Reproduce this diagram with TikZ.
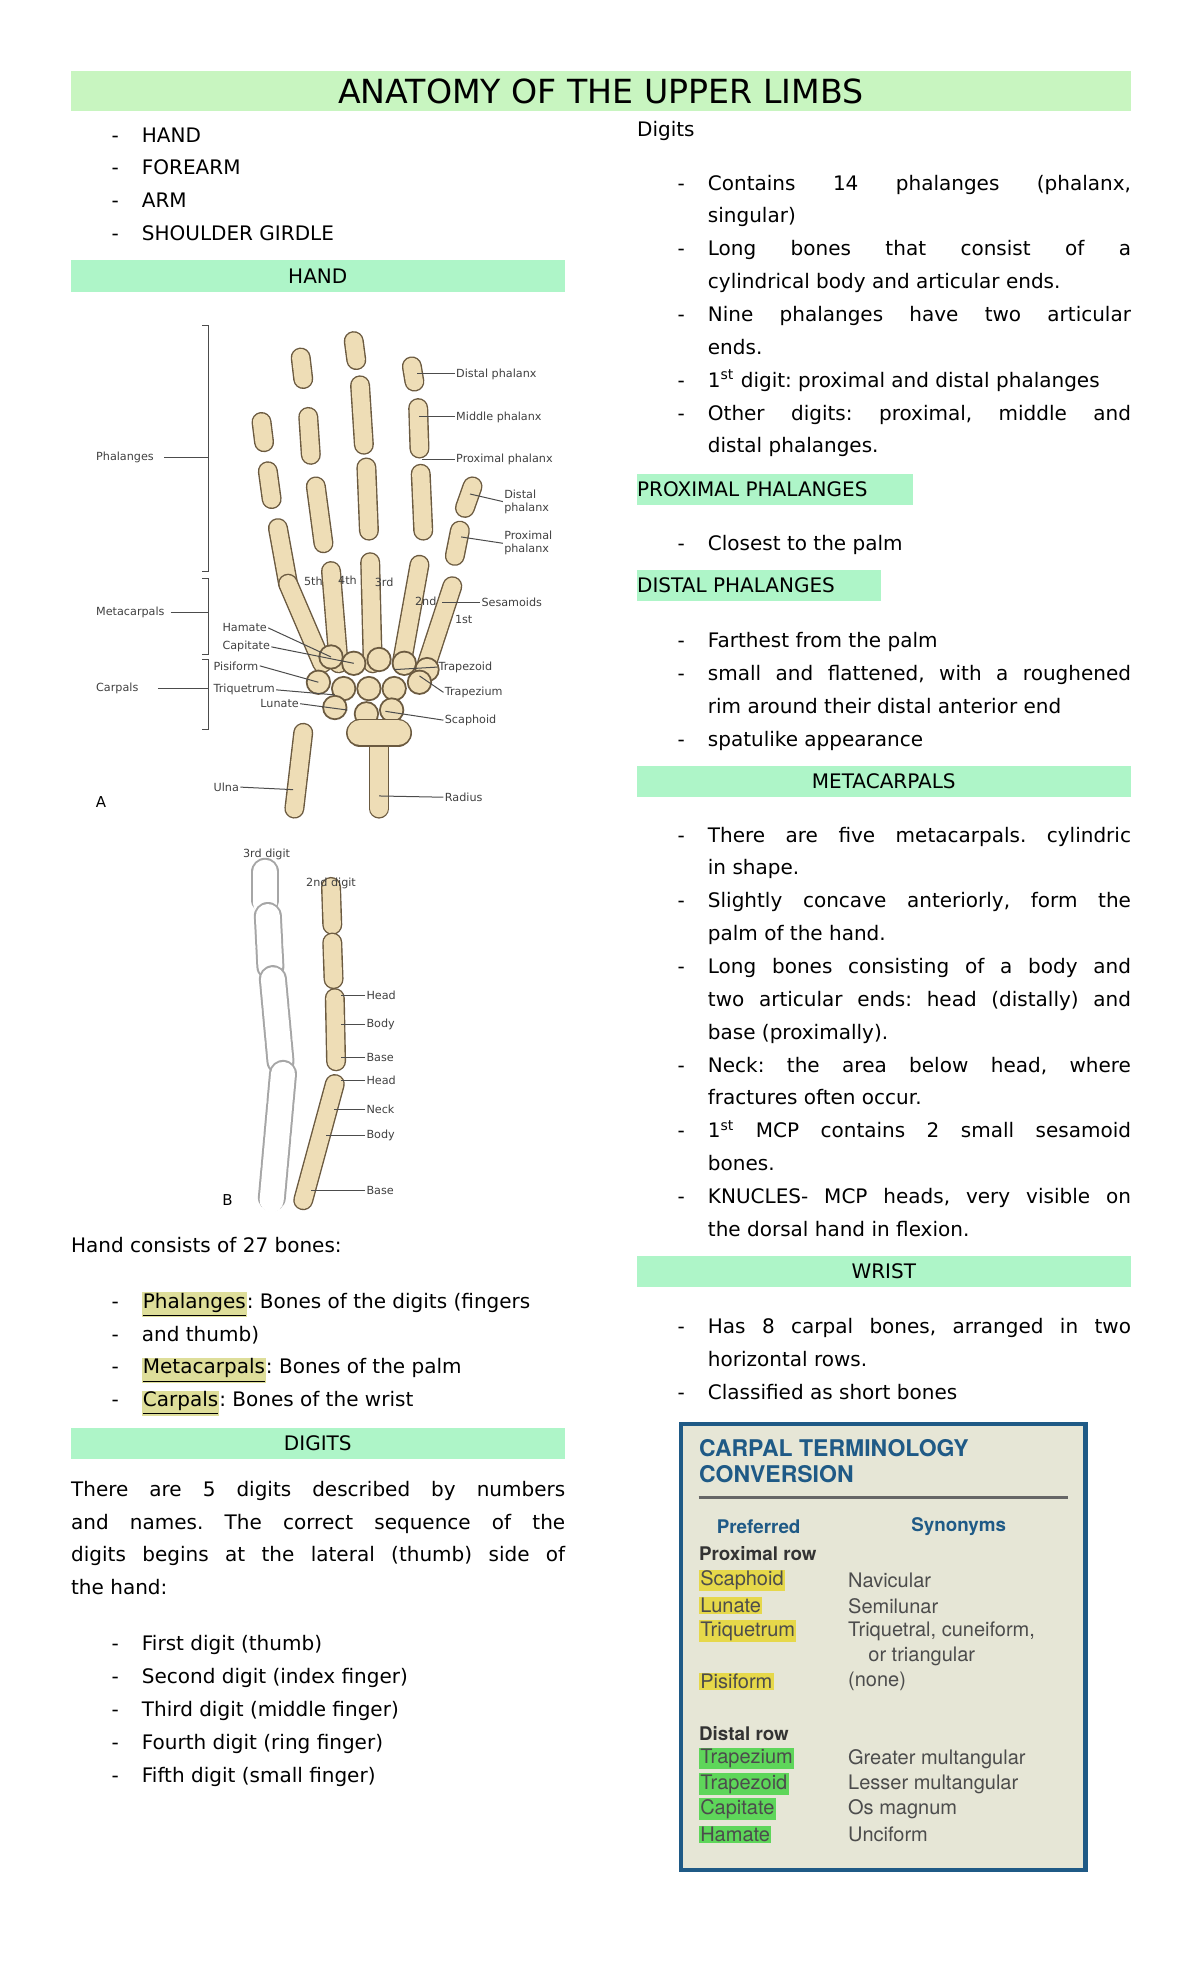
\documentclass[tikz,border=0pt]{standalone}
\usepackage{fontspec}
\setmainfont{DejaVu Sans}
\newfontfamily\tabfont{TeX Gyre Heros}
\frenchspacing
\definecolor{titlec}{HTML}{C8F5C0}
\definecolor{barc}{HTML}{AEF5C8}
\definecolor{hlc}{HTML}{DEDE9A}
\definecolor{bonec}{HTML}{EEDDB6}
\definecolor{boneo}{HTML}{6B5A40}
\definecolor{tblue}{HTML}{1F5A86}
\definecolor{tbg}{HTML}{E6E6D6}
\definecolor{tyel}{HTML}{E6D84A}
\definecolor{tgrn}{HTML}{5ED65A}
\newcommand\bodyf{\fontsize{10}{16.4}\selectfont}
\newcommand\lblf{\fontsize{5.6}{6.6}\selectfont\color{black!75}}
\newcommand\hw[1]{{\setlength\fboxsep{0.5pt}\colorbox{hlc}{\underline{#1}}}}
\begin{document}
\begin{tikzpicture}[x=0.6316pt,y=-0.6316pt,
  txt/.style={anchor=north west,inner sep=0,font=\bodyf,align=left},
  par/.style={anchor=north west,inner sep=0,font=\bodyf,text width=211.5pt,align=justify},
  bar/.style={fill=barc},
  bout/.style={line width=10pt,color=boneo,line cap=round},
  bin/.style={line width=8.6pt,color=bonec,line cap=round},
  lbl/.style={inner sep=0.5pt,font=\lblf},
  ll/.style={black!70,line width=0.5pt},
  tt/.style={anchor=west,inner sep=0,font=\tabfont\fontsize{10}{11}\selectfont,text=black!70}]
\useasboundingbox (0,0) rectangle (950,1564);
\newcommand\bul[3]{\node[par,text width=8pt] at (#1,#2-9) {\strut-}; \node[par] at (#1+24,#2-9) {\strut#3};}
\newcommand\bone[2]{\draw[bout] #1 -- #2; \draw[bin] #1 -- #2;}
% title
\fill[titlec] (56,56) rectangle (895,88);
\node[inner sep=0,font=\fontsize{16.6}{18}\selectfont] (title) at (475.5,72) {ANATOMY OF THE UPPER LIMBS};
% left list
\bul{88}{103}{HAND}
\bul{88}{129}{FOREARM}
\bul{88}{155}{ARM}
\bul{88}{181}{SHOULDER GIRDLE}
\fill[bar] (56,206) rectangle (447,231); \node[font=\bodyf] (hand) at (251.5,218.5) {HAND};
% ---------- figure A
\bone{(207,334)}{(209,350)} \bone{(212,373)}{(215,395)} \bone{(220,418)}{(228,462)}
\bone{(238,283)}{(240,300)} \bone{(244,330)}{(246,360)} \bone{(250,385)}{(256,430)}
\bone{(280,270)}{(282,285)} \bone{(285,305)}{(288,352)} \bone{(290,370)}{(292,420)}
\bone{(326,290)}{(328,302)} \bone{(331,323)}{(332,355)} \bone{(333,375)}{(335,420)}
\bone{(374,385)}{(368,402)} \bone{(364,420)}{(360,440)}
\bone{(228,462)}{(255,525)} \bone{(262,452)}{(268,525)} \bone{(293,445)}{(295,525)} \bone{(332,447)}{(318,525)} \bone{(358,464)}{(338,525)}
\foreach \p in {(262,520),(280,525),(300,522),(320,525),(338,530),(252,540),(272,545),(292,545),(312,545),(332,540),(265,560),(290,565),(310,562)}
  {\fill[boneo] \p circle (10); \fill[bonec] \p circle (8.5);}
\bone{(240,580)}{(233,640)} \bone{(300,578)}{(300,640)}
\draw[bout,line width=14pt] (285,580) -- (315,580); \draw[bin,line width=12.5pt] (285,580) -- (315,580);
\draw[ll] (160,258) -- (165,258) -- (165,452) -- (160,452) (130,362) -- (165,362);
\draw[ll] (160,458) -- (165,458) -- (165,518) -- (160,518) (135,485) -- (165,485);
\draw[ll] (160,522) -- (165,522) -- (165,577) -- (160,577) (125,545) -- (165,545);
\node[lbl,anchor=west] (lph) at (75,362) {Phalanges};
\node[lbl,anchor=west] (lmc) at (75,485) {Metacarpals};
\node[lbl,anchor=west] (lcp) at (75,545) {Carpals};
\node[lbl,anchor=west] (dp) at (360,296) {Distal phalanx}; \draw[ll] (dp.west) -- (330,296);
\node[lbl,anchor=west] (mp) at (360,330) {Middle phalanx}; \draw[ll] (mp.west) -- (332,330);
\node[lbl,anchor=west] (pp) at (360,364) {Proximal phalanx}; \draw[ll] (pp.west) -- (334,364);
\node[lbl,anchor=west,align=left] (dp2) at (398,397) {Distal\\phalanx}; \draw[ll] (dp2.west) -- (372,391);
\node[lbl,anchor=west,align=left] (pp2) at (398,430) {Proximal\\phalanx}; \draw[ll] (pp2.west) -- (365,425);
\node[lbl,anchor=west] (ses) at (380,477) {Sesamoids}; \draw[ll] (ses.west) -- (350,477);
\node[lbl] (n1) at (367,490) {1st};
\node[lbl] at (248,460) {5th}; \node[lbl] at (275,459) {4th}; \node[lbl] at (304,461) {3rd}; \node[lbl] at (337,476) {2nd};
\node[lbl,anchor=west] (ham) at (175,497) {Hamate}; \draw[ll] (ham.east) -- (262,520);
\node[lbl,anchor=west] (cap) at (175,512) {Capitate}; \draw[ll] (cap.east) -- (280,525);
\node[lbl,anchor=west] (pis) at (168,527) {Pisiform}; \draw[ll] (pis.east) -- (252,540);
\node[lbl,anchor=west] (tri) at (168,546) {Triquetrum}; \draw[ll] (tri.east) -- (265,550);
\node[lbl,anchor=west] (lun) at (205,557) {Lunate}; \draw[ll] (lun.east) -- (275,562);
\node[lbl,anchor=west] (tzd) at (346,528) {Trapezoid}; \draw[ll] (tzd.west) -- (312,530);
\node[lbl,anchor=west] (tzm) at (351,548) {Trapezium}; \draw[ll] (tzm.west) -- (332,535);
\node[lbl,anchor=west] (sca) at (351,570) {Scaphoid}; \draw[ll] (sca.west) -- (305,563);
\node[lbl,anchor=west] (uln) at (168,623) {Ulna}; \draw[ll] (uln.east) -- (232,625);
\node[lbl,anchor=west] (rad) at (351,631) {Radius}; \draw[ll] (rad.west) -- (300,630);
\node[inner sep=0,font=\fontsize{7.5}{8}\selectfont] (la) at (80,635) {A};
% ---------- figure B
\foreach \a/\b in {{(210,690)}/{(210,715)},{(212,725)}/{(214,765)},{(216,775)}/{(222,840)},{(224,850)}/{(215,950)}}
  {\draw[black!35,dotted,line width=14pt,line cap=round] \a -- \b; \draw[white,line width=12pt,line cap=round] \a -- \b;}
\bone{(262,702)}{(263,732)} \bone{(263,746)}{(264,775)} \bone{(265,790)}{(266,840)} \bone{(265,858)}{(240,950)}
\node[lbl] (d3) at (211,676) {3rd digit};
\node[lbl] (d2) at (262,699) {2nd digit};
\foreach \y/\t/\xx in {788/Head/270,811/Body/270,837/Base/270,855/Head/270,878/Neck/264,899/Body/258,942/Base/246}
  {\node[lbl,anchor=west] (b\y) at (289,\y) {\t}; \draw[ll] (b\y.west) -- (\xx,\y);}
\node[inner sep=0,font=\fontsize{7.5}{8}\selectfont] (lb) at (180,950) {B};
% ---------- left text
\node[txt] (hc) at (56,979) {Hand consists of 27 bones:};
\bul{88}{1026}{\hw{Phalanges}: Bones of the digits (fingers}
\bul{88}{1052}{and thumb)}
\bul{88}{1078}{\hw{Metacarpals}: Bones of the palm}
\bul{88}{1104}{\hw{Carpals}: Bones of the wrist}
\fill[bar] (56,1130) rectangle (447,1155); \node[font=\bodyf] (dig) at (251.5,1142.5) {DIGITS};
\node[par,text width=247pt] (dp) at (56,1172) {There are 5 digits described by numbers\linebreak and names. The correct sequence of the\linebreak digits begins at the lateral (thumb) side of\linebreak the hand:};
\bul{88}{1297}{First digit (thumb)}
\bul{88}{1323}{Second digit (index finger)}
\bul{88}{1349}{Third digit (middle finger)}
\bul{88}{1375}{Fourth digit (ring finger)}
\bul{88}{1401}{Fifth digit (small finger)}
% ---------- right column
\node[txt] (dg) at (504,96) {Digits};
\bul{536}{141}{Contains 14 phalanges (phalanx,\linebreak singular)}
\bul{536}{193}{Long bones that consist of a\linebreak cylindrical body and articular ends.}
\bul{536}{245}{Nine phalanges have two articular\linebreak ends.}
\bul{536}{297}{1\textsuperscript{st} digit: proximal and distal phalanges}
\bul{536}{323}{Other digits: proximal, middle and\linebreak distal phalanges.}
\fill[bar] (504,375) rectangle (723,400); \node[txt,anchor=west] (pph) at (504,387.5) {PROXIMAL PHALANGES};
\bul{536}{426}{Closest to the palm}
\fill[bar] (504,451) rectangle (697,476); \node[txt,anchor=west] (dph) at (504,463.5) {DISTAL PHALANGES};
\bul{536}{503}{Farthest from the palm}
\bul{536}{529}{small and flattened, with a roughened\linebreak rim around their distal anterior end}
\bul{536}{581}{spatulike appearance}
\fill[bar] (504,606) rectangle (895,631); \node[font=\bodyf] (mcb) at (699.5,618.5) {METACARPALS};
\bul{536}{657}{There are five metacarpals. cylindric\linebreak in shape.}
\bul{536}{709}{Slightly concave anteriorly, form the\linebreak palm of the hand.}
\bul{536}{761}{Long bones consisting of a body and\linebreak two articular ends: head (distally) and\linebreak base (proximally).}
\bul{536}{839}{Neck: the area below head, where\linebreak fractures often occur.}
\bul{536}{891}{1\textsuperscript{st} MCP contains 2 small sesamoid\linebreak bones.}
\bul{536}{943}{KNUCLES- MCP heads, very visible on\linebreak the dorsal hand in flexion.}
\fill[bar] (504,994) rectangle (895,1019); \node[font=\bodyf] (wr) at (699.5,1006.5) {WRIST};
\bul{536}{1046}{Has 8 carpal bones, arranged in two\linebreak horizontal rows.}
\bul{536}{1098}{Classified as short bones}
% ---------- table
\draw[tblue,line width=2.2pt,fill=tbg] (539,1127) rectangle (859,1480);
\node[anchor=north west,inner sep=0,align=left,font=\tabfont\bfseries\fontsize{11.5}{13.2}\selectfont,text=tblue] (tt1) at (553,1139) {CARPAL TERMINOLOGY\\CONVERSION};
\draw[black!60,line width=1.5pt] (553,1185) -- (845,1185);
\node[tt,font=\tabfont\bfseries\fontsize{9.4}{11}\selectfont,text=tblue] (pref) at (567,1208) {Preferred};
\node[tt,font=\tabfont\bfseries\fontsize{9.4}{11}\selectfont,text=tblue] (syn) at (721,1208) {Synonyms};
\node[tt,font=\tabfont\bfseries\fontsize{9.4}{11}\selectfont,text=black!80] (prow) at (553,1230) {Proximal row};
\node[tt,font=\tabfont\bfseries\fontsize{9.4}{11}\selectfont,text=black!80] (drow) at (553,1372) {Distal row};
\foreach \y/\a/\b/\c in {1251/Scaphoid/Navicular/tyel,1271/Lunate/Semilunar/tyel,1291/Triquetrum/{Triquetral, cuneiform,}/tyel,1331/Pisiform/(none)/tyel,1392/Trapezium/Greater multangular/tgrn,1412/Trapezoid/Lesser multangular/tgrn,1432/Capitate/Os magnum/tgrn,1452/Hamate/Unciform/tgrn}
  {\node[tt,fill=\c,inner sep=0.6pt] (p\y) at (553,\y) {\a}; \node[tt] (s\y) at (671,\y) {\b};}
\node[tt] (s1311) at (687,1311) {or triangular};
\end{tikzpicture}
\end{document}
